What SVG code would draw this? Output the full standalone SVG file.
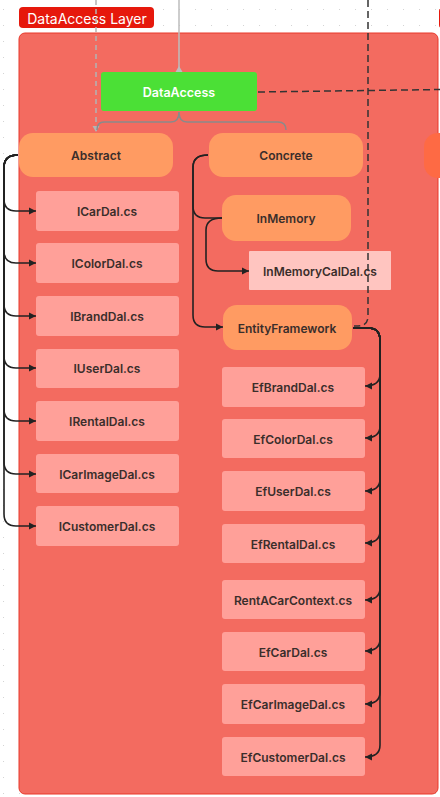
<svg xmlns="http://www.w3.org/2000/svg" width="440" height="797" viewBox="0 0 440 797">
<defs>
<pattern id="dots" x="3" y="9" width="16" height="16" patternUnits="userSpaceOnUse">
<circle cx="0.5" cy="0.5" r="0.6" fill="#d4d4d4"/>
</pattern>
<marker id="ah" viewBox="0 -4 8 8" refX="7" refY="0" markerWidth="8" markerHeight="8" markerUnits="userSpaceOnUse" orient="auto">
<path d="M0,-3.5 L7,0 L0,3.5 z" fill="#222"/>
</marker>
<marker id="ahGray" viewBox="0 -4 8 8" refX="6" refY="0" markerWidth="8" markerHeight="8" markerUnits="userSpaceOnUse" orient="auto">
<path d="M0,-3.5 L6,0 L0,3.5 z" fill="#b4b4b4"/>
</marker>
<marker id="ahGrayBase" viewBox="0 -4 8 8" refX="0" refY="0" markerWidth="8" markerHeight="8" markerUnits="userSpaceOnUse" orient="auto">
<path d="M0,-3.5 L6,0 L0,3.5 z" fill="#bdbdbd"/>
</marker>
<style>
.t{font-family:Inter,"Liberation Sans",Arial,sans-serif;font-size:12px;font-weight:600;fill:#3a2e2b;text-anchor:middle;dominant-baseline:central}
.grp{fill:#ff9b62}
.leaf{fill:#ffa099}
.conn{fill:none;stroke:#222;stroke-width:1.6}
</style>
</defs>
<rect width="440" height="797" fill="#ffffff"/>
<rect width="440" height="797" fill="url(#dots)"/>

<g id="layer">
<rect x="19" y="33" width="419" height="761" rx="6" fill="#f36b60" stroke="#e8392b" stroke-width="1"/>
<rect x="19" y="7" width="135" height="21" rx="4" fill="#e6180c"/>
<text x="87" y="18" font-family="Inter,'Liberation Sans',Arial,sans-serif" font-size="14" fill="#ffffff" text-anchor="middle" dominant-baseline="central">DataAccess Layer</text>
<rect x="439" y="8" width="10" height="20" rx="3" fill="#e6180c"/>
<rect x="424" y="133" width="40" height="45" rx="14" fill="#fe6a44"/>
</g>

<g id="node-dataaccess">
<rect x="101" y="72" width="156" height="39" rx="3" fill="#4be036"/>
<text class="t" x="179" y="92" style="fill:#ffffff;font-size:12.5px">DataAccess</text>
</g>
<g id="node-abstract">
<rect class="grp" x="19" y="133" width="154" height="44" rx="14"/>
<text class="t" x="96" y="155">Abstract</text>
</g>
<g id="node-concrete">
<rect class="grp" x="209" y="133" width="154" height="44" rx="14"/>
<text class="t" x="286" y="155">Concrete</text>
</g>
<g id="node-inmemory">
<rect class="grp" x="222" y="195" width="129" height="46" rx="14"/>
<text class="t" x="286" y="218">InMemory</text>
</g>
<g id="node-inmemorycaldal">
<rect x="249" y="251" width="142" height="39" rx="1" fill="#ffc5c0"/>
<text class="t" x="320" y="271">InMemoryCalDal.cs</text>
</g>
<g id="node-entityframework">
<rect class="grp" x="223" y="305" width="129" height="45" rx="14"/>
<text class="t" x="287" y="328">EntityFramework</text>
</g>

<g id="node-icardal"><rect class="leaf" x="36" y="191" width="143" height="40" rx="3"/><text class="t" x="107" y="211">ICarDal.cs</text></g>
<g id="node-icolordal"><rect class="leaf" x="36" y="243" width="143" height="40" rx="3"/><text class="t" x="107" y="263">IColorDal.cs</text></g>
<g id="node-ibranddal"><rect class="leaf" x="36" y="296" width="143" height="40" rx="3"/><text class="t" x="107" y="316">IBrandDal.cs</text></g>
<g id="node-iuserdal"><rect class="leaf" x="36" y="349" width="143" height="39" rx="3"/><text class="t" x="107" y="368">IUserDal.cs</text></g>
<g id="node-irentaldal"><rect class="leaf" x="36" y="401" width="143" height="40" rx="3"/><text class="t" x="107" y="421">IRentalDal.cs</text></g>
<g id="node-icarimagedal"><rect class="leaf" x="36" y="454" width="143" height="39" rx="3"/><text class="t" x="107" y="474">ICarImageDal.cs</text></g>
<g id="node-icustomerdal"><rect class="leaf" x="36" y="506" width="143" height="40" rx="3"/><text class="t" x="107" y="526">ICustomerDal.cs</text></g>

<g id="node-efbranddal"><rect class="leaf" x="222" y="367" width="143" height="40" rx="3"/><text class="t" x="293" y="387">EfBrandDal.cs</text></g>
<g id="node-efcolordal"><rect class="leaf" x="222" y="419" width="143" height="39" rx="3"/><text class="t" x="293" y="439">EfColorDal.cs</text></g>
<g id="node-efuserdal"><rect class="leaf" x="222" y="471" width="143" height="40" rx="3"/><text class="t" x="293" y="491">EfUserDal.cs</text></g>
<g id="node-efrentaldal"><rect class="leaf" x="222" y="524" width="143" height="39" rx="3"/><text class="t" x="293" y="544">EfRentalDal.cs</text></g>
<g id="node-rentacarcontext"><rect class="leaf" x="222" y="580" width="143" height="39" rx="3"/><text class="t" x="293" y="600">RentACarContext.cs</text></g>
<g id="node-efcardal"><rect class="leaf" x="222" y="632" width="143" height="39" rx="3"/><text class="t" x="293" y="652">EfCarDal.cs</text></g>
<g id="node-efcarimagedal"><rect class="leaf" x="222" y="684" width="143" height="40" rx="3"/><text class="t" x="293" y="704">EfCarImageDal.cs</text></g>
<g id="node-efcustomerdal"><rect class="leaf" x="222" y="737" width="143" height="39" rx="3"/><text class="t" x="293" y="757">EfCustomerDal.cs</text></g>

<g id="connectors">
<path d="M179,72 V0" fill="none" stroke="#bdbdbd" stroke-width="1.5" marker-start="url(#ahGrayBase)"/>
<path d="M96,0 V132" fill="none" stroke="#b4b4b4" stroke-width="1.5" stroke-dasharray="5 4" marker-end="url(#ahGray)"/>
<path d="M179,112 Q179,122 171,122 H104 Q97,122 97,130 M179,112 Q179,122 187,122 H278 Q286,122 286,130" fill="none" stroke="#8a8a8a" stroke-width="1.5"/>
<path d="M258,92 L440,89.5" fill="none" stroke="#333" stroke-width="1.5" stroke-dasharray="7 4"/>
<path d="M368,0 V316 Q368,326 358,326 H354" fill="none" stroke="#333" stroke-width="1.5" stroke-dasharray="7 4"/>

<path class="conn" d="M18,155 Q4,155 4,167 V199 Q4,211 16,211 H36" marker-end="url(#ah)"/>
<path class="conn" d="M18,155 Q4,155 4,167 V251 Q4,263 16,263 H36" marker-end="url(#ah)"/>
<path class="conn" d="M18,155 Q4,155 4,167 V304 Q4,316 16,316 H36" marker-end="url(#ah)"/>
<path class="conn" d="M18,155 Q4,155 4,167 V356 Q4,368 16,368 H36" marker-end="url(#ah)"/>
<path class="conn" d="M18,155 Q4,155 4,167 V409 Q4,421 16,421 H36" marker-end="url(#ah)"/>
<path class="conn" d="M18,155 Q4,155 4,167 V462 Q4,474 16,474 H36" marker-end="url(#ah)"/>
<path class="conn" d="M18,155 Q4,155 4,167 V514 Q4,526 16,526 H36" marker-end="url(#ah)"/>

<path class="conn" d="M208,155 Q193,155 193,167 V206 Q193,218 205,218 H222"/>
<path class="conn" d="M208,155 Q193,155 193,167 V315 Q193,327 205,327 H223" marker-end="url(#ah)"/>
<path class="conn" d="M222,218 Q206,218 206,230 V259 Q206,271 218,271 H249" marker-end="url(#ah)"/>

<path class="conn" d="M353,328 H368 Q380,328 380,340 V374 Q380,386 365,386" marker-end="url(#ah)"/>
<path class="conn" d="M353,328 H368 Q380,328 380,340 V426 Q380,438 365,438" marker-end="url(#ah)"/>
<path class="conn" d="M353,328 H368 Q380,328 380,340 V479 Q380,491 365,491" marker-end="url(#ah)"/>
<path class="conn" d="M353,328 H368 Q380,328 380,340 V531 Q380,543 365,543" marker-end="url(#ah)"/>
<path class="conn" d="M353,328 H368 Q380,328 380,340 V588 Q380,600 365,600" marker-end="url(#ah)"/>
<path class="conn" d="M353,328 H368 Q380,328 380,340 V639 Q380,651 365,651" marker-end="url(#ah)"/>
<path class="conn" d="M353,328 H368 Q380,328 380,340 V692 Q380,704 365,704" marker-end="url(#ah)"/>
<path class="conn" d="M353,328 H368 Q380,328 380,340 V745 Q380,757 365,757" marker-end="url(#ah)"/>
</g>
</svg>
